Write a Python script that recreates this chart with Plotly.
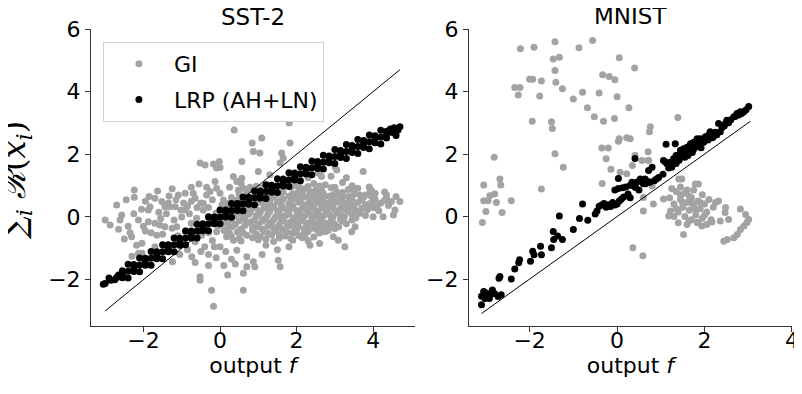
import plotly.graph_objects as go

# ---------------- data ----------------
panel_titles = ["SST-2", "MNIST"]
x_ticks_sst = [-2, 0, 2, 4]
x_ticks_mnist = [-2, 0, 2, 4]
y_ticks = [-2, 0, 2, 4, 6]

# identity lines y = x (endpoints of the output range)
diag_sst = [-3.0, 4.7]
diag_mnist = [-3.1, 3.05]

sst_gi = [
    (1.81, 3.0), (0.37, 2.78), (0.84, 2.36), (1.09, 2.52), (0.87, 2.09), (1.04, 2.04), (1.83, 2.36),
    (0.57, 1.77), (-0.17, 1.69), (-0.02, 1.77), (-0.09, 1.56), (0.0, 1.58), (1.61, 2.04), (1.65, 1.88),
    (1.57, 1.72), (-0.52, 1.72), (-0.39, 1.66), (0.35, 1.29), (0.44, 1.13), (0.57, 1.24), (0.61, 0.92),
    (0.48, 0.86), (0.70, 0.81), (0.78, 0.95), (-0.13, 1.13), (-0.09, 0.92), (-0.26, 0.81), (0.0, 0.76),
    (0.09, 0.54), (-0.35, 0.70), (-0.44, 0.44),
    (-2.24, 0.86), (-2.24, 0.63), (-1.63, 0.83), (-1.33, 0.67), (-2.70, 0.38), (-3.0, -0.1), (-2.87, -0.26),
    (-2.61, -0.1), (-2.57, 0.06), (-2.65, -0.39), (-2.35, -0.5), (-2.31, -0.63), (-2.13, -0.1), (-1.87, -0.15),
    (-2.18, -0.9), (-2.04, -0.84), (-1.83, 0.33), (-1.87, 0.22), (-1.52, 0.49), (-1.44, 0.33), (-1.31, 0.33),
    (-1.17, 0.33), (-1.09, 0.70), (-0.91, 0.76), (-0.70, 0.76), (-1.02, 0.22), (-0.91, 0.22), (-1.70, -0.2),
    (-1.57, -0.26), (-1.44, -0.31), (-1.25, -0.36), (-1.13, -0.31), (-1.65, -0.58), (-2.13, -1.16),
    (-2.04, -1.16), (-1.24, -1.43), (-0.74, -1.27), (-0.52, -1.91), (-0.52, -2.02), (-0.65, -0.79),
    (-0.48, -0.58), (-0.61, -0.04), (-0.44, 0.22),
    (-0.09, -0.47), (0.17, -0.63), (0.35, -0.74), (0.0, -0.95), (0.44, -1.06), (0.70, -1.27), (0.87, -1.43),
    (0.91, -1.59), (0.70, -1.59), (0.61, -1.8), (1.52, -1.38), (1.57, -1.59), (-0.22, -2.34), (0.61, -2.34),
    (-0.17, -2.85),
    (3.74, 1.45), (3.0, 1.61), (3.05, 1.5), (2.57, 1.4), (2.65, 1.29), (4.35, 0.6), (4.48, 0.49), (4.70, 0.49),
    (4.53, 0.06), (4.57, 0.22), (4.26, 0.01), (4.0, 0.01), (4.09, 0.28), (3.87, 0.33), (3.70, 0.54),
    (3.92, 0.81), (4.05, 0.76), (3.53, -0.31), (3.44, -0.47), (3.26, -0.95), (3.09, -0.74), (2.96, -0.63),
    (2.83, -0.42), (2.35, -0.9), (2.22, -0.63),
    (-2.25, 0.1), (-1.95, 0.5), (-1.7, 0.6), (-1.4, 0.1), (-1.2, -0.1), (-0.95, 0.45), (-0.8, 0.1),
    (-0.75, 0.5), (-0.6, 0.3), (-0.3, 0.3), (-0.2, 0.55), (-0.55, -0.3), (-0.4, -0.95), (-0.3, -1.2),
    (-0.85, -1.05), (-1.05, -1.2), (-0.2, -0.75), (0.15, -1.1), (0.3, -1.35), (-2.5, -0.7), (-1.95, -0.45),
    (-1.5, -0.55),
    (-2.45, 0.55), (-2.05, 0.25), (-1.85, 0.65), (-1.6, 0.15), (-1.35, 0.45), (-1.15, 0.55), (-1.0, 0.0),
    (-0.85, 0.35), (-0.65, 0.6), (-0.5, 0.45), (-0.35, 0.95), (-0.55, 1.05), (-0.75, 0.95), (-1.25, 0.9),
    (-1.55, -0.05), (-1.8, -0.5), (-2.4, -0.3), (-2.0, -0.3), (-1.1, -0.6), (-0.9, -0.45), (-0.75, -0.2),
    (-0.3, -0.5), (-0.15, -0.95), (-0.5, -1.1), (-0.65, -1.45), (-0.3, -1.55), (-0.1, -1.3), (0.1, -1.55),
    (0.4, -1.5), (0.2, -1.85), (-1.4, -0.9), (-1.7, -0.95), (-2.3, -1.25),
    (0.55, 1.08), (1.25, 1.02), (1.7, 1.1), (2.05, 1.0), (2.45, 1.07), (2.75, 1.03), (3.2, 1.1),
    (0.8, 0.88), (1.1, 0.93), (1.45, 0.87), (1.85, 0.95), (2.2, 0.9), (2.5, 0.86), (2.9, 0.93), (3.35, 0.88),
    (3.6, 0.92),
    (0.5, 0.73), (0.95, 0.78), (1.3, 0.72), (1.6, 0.77), (1.9, 0.74), (2.15, 0.79), (2.4, 0.72), (2.7, 0.76),
    (2.95, 0.71), (3.2, 0.78), (3.5, 0.74), (3.8, 0.7),
    (0.3, 0.62), (0.6, 0.57), (0.85, 0.61), (1.15, 0.58), (1.4, 0.63), (1.65, 0.57), (1.95, 0.6), (2.2, 0.64),
    (2.45, 0.58), (2.7, 0.61), (2.95, 0.56), (3.2, 0.62), (3.45, 0.59), (3.75, 0.63), (4.05, 0.57),
    (0.2, 0.43), (0.5, 0.47), (0.75, 0.42), (1.0, 0.46), (1.25, 0.44), (1.5, 0.48), (1.8, 0.43), (2.05, 0.47),
    (2.3, 0.42), (2.55, 0.46), (2.8, 0.44), (3.05, 0.48), (3.3, 0.43), (3.6, 0.46), (3.9, 0.42), (4.2, 0.45),
    (0.1, 0.28), (0.35, 0.32), (0.65, 0.27), (0.9, 0.31), (1.15, 0.29), (1.4, 0.33), (1.65, 0.28), (1.9, 0.31),
    (2.15, 0.27), (2.4, 0.32), (2.65, 0.29), (2.9, 0.33), (3.15, 0.28), (3.4, 0.31), (3.7, 0.27), (4.0, 0.3),
    (-0.1, 0.13), (0.2, 0.17), (0.5, 0.12), (0.8, 0.16), (1.05, 0.14), (1.3, 0.18), (1.55, 0.13), (1.8, 0.16),
    (2.05, 0.12), (2.3, 0.17), (2.55, 0.14), (2.8, 0.18), (3.05, 0.13), (3.35, 0.16), (3.65, 0.12),
    (-0.3, 0.02), (0.05, -0.02), (0.35, 0.03), (0.65, -0.01), (0.95, 0.02), (1.2, -0.03), (1.45, 0.01),
    (1.7, 0.03), (1.95, -0.02), (2.2, 0.02), (2.45, -0.01), (2.7, 0.03), (2.95, -0.02), (3.25, 0.01),
    (3.55, -0.03),
    (-0.2, -0.13), (0.2, -0.17), (0.5, -0.12), (0.8, -0.16), (1.1, -0.14), (1.35, -0.18), (1.6, -0.13),
    (1.85, -0.16), (2.1, -0.12), (2.35, -0.17), (2.6, -0.14), (2.9, -0.18), (3.2, -0.13),
    (-0.05, -0.28), (0.3, -0.32), (0.65, -0.27), (0.95, -0.31), (1.25, -0.29), (1.5, -0.33), (1.8, -0.28),
    (2.05, -0.31), (2.3, -0.27), (2.6, -0.32), (2.85, -0.29), (3.1, -0.31),
    (0.1, -0.43), (0.45, -0.47), (0.85, -0.42), (1.15, -0.46), (1.45, -0.44), (1.75, -0.48), (2.0, -0.43),
    (2.3, -0.46), (2.55, -0.42), (2.75, -0.47),
    (0.3, -0.62), (0.7, -0.58), (1.05, -0.63), (1.35, -0.57), (1.7, -0.61), (2.05, -0.59), (2.45, -0.64),
    (0.55, -0.77), (1.0, -0.73), (1.4, -0.78), (1.9, -0.74), (2.3, -0.76),
    (1.2, -0.9), (1.8, -0.95), (2.6, -0.85), (1.5, -1.05), (1.1, -1.2), (3.3, 1.25), (2.3, 1.25), (1.3, 1.35),
    (0.25, 0.95), (2.9, 1.3), (1.0, 1.45), (2.0, 1.2),
    (0.95, 0.98), (1.4, 0.96), (1.9, 1.0), (2.3, 0.97), (2.6, 0.99), (3.0, 0.95), (3.45, 1.0), (3.9, 0.96),
    (1.25, 0.83), (1.65, 0.8), (2.05, 0.84), (2.35, 0.81), (2.65, 0.85), (3.05, 0.8), (3.5, 0.83),
    (3.95, 0.85), (4.3, 0.8),
    (0.7, 0.68), (1.05, 0.65), (1.45, 0.7), (1.8, 0.66), (2.05, 0.69), (2.3, 0.65), (2.55, 0.7), (2.85, 0.66),
    (3.1, 0.69), (3.35, 0.65), (3.65, 0.7), (3.95, 0.66), (4.35, 0.7), (4.6, 0.65),
    (0.45, 0.53), (0.7, 0.5), (1.0, 0.54), (1.3, 0.51), (1.6, 0.55), (1.85, 0.5), (2.1, 0.54), (2.35, 0.51),
    (2.65, 0.55), (2.9, 0.5), (3.15, 0.53), (3.4, 0.51), (3.7, 0.55), (4.0, 0.5), (4.3, 0.53),
    (0.05, 0.38), (0.35, 0.36), (0.6, 0.39), (0.9, 0.35), (1.15, 0.38), (1.35, 0.36), (1.6, 0.39), (1.9, 0.35),
    (2.2, 0.38), (2.45, 0.36), (2.7, 0.39), (2.95, 0.35), (3.2, 0.38), (3.5, 0.36), (3.8, 0.39), (4.1, 0.35),
    (4.4, 0.37),
    (0.25, 0.23), (0.5, 0.2), (0.8, 0.24), (1.0, 0.21), (1.25, 0.25), (1.5, 0.2), (1.75, 0.23), (2.0, 0.21),
    (2.25, 0.24), (2.5, 0.2), (2.75, 0.23), (3.0, 0.21), (3.25, 0.25), (3.55, 0.2), (3.85, 0.23), (4.15, 0.2),
    (0.15, 0.08), (0.4, 0.05), (0.75, 0.09), (1.0, 0.06), (1.25, 0.08), (1.55, 0.05), (1.8, 0.09), (2.1, 0.06),
    (2.35, 0.08), (2.6, 0.05), (2.85, 0.09), (3.15, 0.06), (3.45, 0.08), (3.8, 0.05),
    (-0.1, -0.07), (0.3, -0.09), (0.6, -0.06), (0.9, -0.1), (1.15, -0.07), (1.4, -0.09), (1.65, -0.06),
    (1.9, -0.1), (2.15, -0.07), (2.4, -0.09), (2.65, -0.06), (2.9, -0.1), (3.15, -0.07), (3.45, -0.1),
    (0.05, -0.21), (0.4, -0.24), (0.7, -0.2), (1.0, -0.23), (1.3, -0.21), (1.55, -0.25), (1.75, -0.2),
    (2.0, -0.23), (2.25, -0.21), (2.5, -0.24), (2.75, -0.2), (3.0, -0.23), (3.3, -0.22),
    (0.2, -0.36), (0.55, -0.39), (0.85, -0.35), (1.1, -0.38), (1.4, -0.36), (1.65, -0.39), (1.95, -0.35),
    (2.2, -0.38), (2.45, -0.36), (2.7, -0.39), (3.0, -0.37),
    (0.25, -0.53), (0.6, -0.5), (0.95, -0.54), (1.25, -0.51), (1.55, -0.55), (1.9, -0.5), (2.2, -0.53),
    (2.6, -0.51),
    (0.5, -0.68), (0.85, -0.66), (1.2, -0.7), (1.55, -0.67), (1.85, -0.69), (2.15, -0.66),
]

# LRP band (SST-2): centre row, rows above, rows below, plus the sparse ends
sst_lrp_centre = [
    (-3.0, -2.12), (-2.85, -2.02), (-2.7, -1.93), (-2.55, -1.83), (-2.4, -1.73), (-2.25, -1.63),
    (-2.1, -1.53), (-1.95, -1.43), (-1.8, -1.32), (-1.65, -1.22), (-1.5, -1.11), (-1.35, -1.0),
    (-1.2, -0.89), (-1.05, -0.79), (-0.9, -0.67), (-0.75, -0.56), (-0.6, -0.45), (-0.45, -0.33),
    (-0.3, -0.22), (-0.15, -0.11), (0.0, 0.0), (0.15, 0.11), (0.3, 0.21), (0.45, 0.32), (0.6, 0.42),
    (0.75, 0.52), (0.9, 0.61), (1.05, 0.71), (1.2, 0.81), (1.35, 0.9), (1.5, 1.0), (1.65, 1.1),
    (1.8, 1.19), (1.95, 1.29), (2.1, 1.38), (2.25, 1.48), (2.4, 1.57), (2.55, 1.66), (2.7, 1.75),
    (2.85, 1.84), (3.0, 1.93), (3.15, 2.01), (3.3, 2.09), (3.45, 2.17), (3.6, 2.25), (3.75, 2.33),
    (3.9, 2.4), (4.05, 2.48), (4.2, 2.55), (4.35, 2.63), (4.5, 2.7), (4.65, 2.78),
]
sst_lrp_upper = [
    (-2.4, -1.51), (-2.1, -1.31), (-1.8, -1.1), (-1.5, -0.89), (-1.2, -0.67), (-0.9, -0.45), (-0.6, -0.23),
    (-0.3, 0.0), (0.0, 0.22), (0.3, 0.43), (0.6, 0.64), (0.9, 0.83), (1.2, 1.03), (1.5, 1.22), (1.8, 1.41),
    (2.1, 1.6), (2.4, 1.79), (2.7, 1.97), (3.0, 2.15), (3.3, 2.31), (3.6, 2.47), (3.9, 2.62), (4.2, 2.77),
    (-2.55, -1.72), (-2.25, -1.52), (-1.95, -1.32), (-1.65, -1.11), (-1.35, -0.89), (-1.05, -0.68),
    (-0.75, -0.45), (-0.45, -0.22), (-0.15, 0.0), (0.15, 0.22), (0.45, 0.43), (0.75, 0.63), (1.05, 0.82),
    (1.35, 1.01), (1.65, 1.21), (1.95, 1.4), (2.25, 1.59), (2.55, 1.77), (2.85, 1.95), (3.15, 2.12),
    (3.45, 2.28), (3.75, 2.44), (4.05, 2.59), (4.35, 2.74),
]
sst_lrp_lower = [
    (-2.4, -1.95), (-2.1, -1.75), (-1.8, -1.54), (-1.5, -1.33), (-1.2, -1.11), (-0.9, -0.89), (-0.6, -0.67),
    (-0.3, -0.44), (0.0, -0.22), (0.3, -0.01), (0.6, 0.2), (0.9, 0.39), (1.2, 0.59), (1.5, 0.78), (1.8, 0.97),
    (2.1, 1.16), (2.4, 1.35), (2.7, 1.53), (3.0, 1.71), (3.3, 1.87), (3.6, 2.03), (3.9, 2.18), (4.2, 2.33),
    (-2.55, -1.94), (-2.25, -1.74), (-1.95, -1.54), (-1.65, -1.33), (-1.35, -1.11), (-1.05, -0.9),
    (-0.75, -0.67), (-0.45, -0.44), (-0.15, -0.22), (0.15, 0.0), (0.45, 0.21), (0.75, 0.41), (1.05, 0.6),
    (1.35, 0.79), (1.65, 0.99), (1.95, 1.18), (2.25, 1.37), (2.55, 1.55), (2.85, 1.73), (3.15, 1.9),
    (3.45, 2.06), (3.75, 2.22), (4.05, 2.37), (4.35, 2.52),
]
sst_lrp_ends = [
    (-3.05, -2.15), (-2.9, -1.95), (-2.75, -2.0), (-2.65, -1.85), (4.45, 2.81), (4.55, 2.85), (4.6, 2.6),
    (4.7, 2.88),
]

mnist_gi = [
    (-1.42, 5.59), (-0.56, 5.63), (-2.21, 5.37), (-1.90, 5.42), (-0.87, 5.40), (0.05, 5.08), (-1.46, 5.04),
    (-1.32, 5.10), (0.40, 4.75), (-1.42, 4.67), (-0.33, 4.54), (-0.18, 4.48), (-0.05, 4.38), (-2.0, 4.39),
    (-1.93, 4.39), (-1.73, 4.34), (-1.40, 4.30), (-2.34, 4.13), (-2.22, 4.13), (-2.26, 3.89), (-1.77, 3.86),
    (-1.25, 4.09), (-0.79, 3.98), (-0.41, 3.95), (-1.0, 3.76), (0.0, 3.83), (-0.68, 3.48), (0.27, 3.48),
    (-0.52, 3.19), (-0.31, 3.05), (-0.06, 3.14), (-1.94, 3.05), (-1.50, 3.03), (-1.48, 2.82), (1.39, 3.17),
    (0.76, 2.87), (0.74, 2.71), (0.05, 2.49), (0.03, 2.41), (0.22, 2.52), (0.30, 2.49), (-0.35, 2.19),
    (-0.20, 2.19), (-1.42, 2.01), (-2.81, 1.90), (-1.23, 1.58), (-0.25, 1.85), (0.41, 1.96), (0.72, 1.80),
    (-0.14, 1.51), (0.07, 1.42), (0.22, 1.37), (0.35, 1.63), (-2.68, 1.20), (-2.66, 1.01), (-3.05, 1.01),
    (-1.73, 0.88), (-0.34, 1.06), (-3.05, 0.51), (-2.95, 0.51), (-2.91, 0.67), (-2.80, 0.72), (-2.76, 0.45),
    (-2.42, 0.51), (-3.0, 0.16), (-2.63, 0.13), (-3.08, -0.19), (0.36, -1.0), (0.59, -1.25),
    (0.71, 2.07), (0.71, 1.79), (0.57, 1.79), (1.79, 1.04), (1.86, 1.04), (1.41, 1.20), (1.48, 1.20),
    (0.68, 1.10), (0.80, 0.99), (0.60, 0.61), (0.83, 0.40), (0.60, 0.18), (1.06, 0.56),
    (2.32, 0.50), (2.25, 0.45), (2.48, 0.29), (2.47, 0.13), (2.55, -0.09), (2.36, -0.14), (2.17, -0.17),
    (2.82, 0.24), (2.94, 0.07), (3.01, -0.09), (2.97, -0.19), (2.90, -0.30), (2.82, -0.41), (2.75, -0.57),
    (2.67, -0.68), (2.52, -0.73), (2.44, -0.79), (1.52, -0.57), (1.22, 0.18), (1.18, 0.02), (1.64, -0.14),
    (1.83, -0.19), (1.94, -0.30),
    (1.2, 0.6), (1.3, 0.4), (1.35, 0.8), (1.4, 0.15), (1.45, 0.55), (1.5, 0.3), (1.55, 0.0), (1.55, 0.75),
    (1.6, 0.45), (1.65, 0.2), (1.7, -0.1), (1.7, 0.6), (1.75, 0.35), (1.8, 0.05), (1.85, 0.5), (1.9, 0.25),
    (1.95, -0.05), (1.95, 0.7), (2.0, 0.4), (2.05, 0.15), (2.1, 0.55), (2.15, -0.1), (2.2, 0.3), (1.25, 0.9),
    (1.45, 0.95), (1.6, 0.85), (1.75, 0.85), (1.3, 0.0), (1.4, -0.2), (1.6, -0.25), (1.85, -0.2),
    (2.05, -0.25), (1.5, 0.45), (1.65, 0.65), (1.8, 0.2), (1.9, 0.45), (2.0, 0.05), (1.35, 0.25),
    (1.45, 0.7), (1.7, 0.45),
]

mnist_lrp = [
    (-3.1, -2.82), (-3.1, -2.55), (-3.02, -2.62), (-2.98, -2.45), (-2.9, -2.5), (-2.85, -2.35),
    (-2.8, -2.47), (-2.72, -2.56), (-2.65, -2.5), (-3.05, -2.4), (-2.92, -2.62),
    (-2.7, -1.97), (-2.68, -1.92), (-2.42, -2.0), (-2.34, -1.68), (-2.25, -1.48), (-2.23, -1.38),
    (-1.98, -1.43), (-1.93, -1.11), (-1.9, -1.22), (-1.75, -0.95), (-1.73, -1.22), (-1.5, -1.0),
    (-1.45, -0.73), (-1.46, -0.48), (-1.36, -0.62), (-1.25, -0.73), (-1.32, 0.02), (-1.0, -0.41),
    (-0.86, -0.06), (-0.79, 0.4), (-0.67, -0.12), (-0.5, 0.08), (-0.46, 0.18), (-0.41, 0.33),
    (-0.35, 0.37), (-0.3, 0.42), (-0.2, 0.38), (-0.15, 0.32), (-0.1, 0.45), (-0.05, 0.37), (0.05, 0.5),
    (0.1, 0.56), (0.15, 0.63), (0.03, 1.22), (-0.05, 0.85), (0.03, 0.9), (0.13, 0.92), (0.3, 1.0),
    (0.34, 1.1), (0.42, 0.93), (0.5, 0.85), (0.41, 1.86), (0.57, 1.15), (0.65, 1.05), (0.75, 1.1),
    (0.85, 1.15), (0.95, 1.25), (1.05, 1.35), (1.1, 1.75), (1.12, 2.31),
    (3.01, 3.52), (2.82, 3.35), (2.74, 3.30), (2.67, 3.19), (2.51, 3.08), (2.48, 2.98), (2.32, 2.98),
    (2.36, 2.71), (2.13, 2.71), (2.09, 2.60), (2.02, 2.55), (1.90, 2.49), (1.83, 2.49), (1.75, 2.38),
    (1.68, 2.33), (1.6, 2.22), (1.52, 2.17), (1.45, 2.12), (1.33, 2.33), (1.37, 1.95), (1.29, 1.85),
    (1.22, 1.74), (1.14, 1.69), (1.06, 1.79), (0.80, 1.58), (0.72, 1.47), (0.64, 1.2), (0.53, 1.2),
    (0.45, 1.1), (0.37, 0.99),
    (1.5, 2.0), (1.6, 2.1), (1.7, 2.2), (1.8, 2.3), (1.9, 2.35), (2.0, 2.45), (1.55, 1.9), (1.65, 2.05),
    (1.75, 2.15), (1.85, 2.25), (1.95, 2.4), (2.05, 2.5), (2.15, 2.6), (2.25, 2.7), (1.4, 1.85),
    (1.3, 1.75), (1.35, 1.95), (1.45, 2.0), (2.2, 2.55), (2.4, 2.85), (2.6, 3.1), (2.7, 3.2),
    (2.78, 3.25), (2.9, 3.35), (2.95, 3.42), (2.85, 3.3),
    (1.25, 1.65), (1.35, 1.7), (1.55, 2.05), (1.65, 2.15), (1.78, 2.22), (1.88, 2.3), (1.98, 2.38),
    (2.08, 2.45), (2.18, 2.52), (2.28, 2.62), (1.42, 1.8), (1.62, 1.95), (1.72, 2.05), (1.92, 2.2),
    (2.12, 2.65), (2.45, 2.9), (2.55, 3.0), (0.9, 1.2), (0.7, 1.12), (0.6, 1.05), (0.2, 0.95),
    (0.25, 0.72), (0.3, 0.6), (-0.25, 0.3), (0.0, 0.4), (1.18, 1.55), (1.25, 1.58),
]

GI_COLOR = "#a3a3a3"
LRP_COLOR = "#000000"
FONT = "DejaVu Sans"
MSIZE = 7

sst_lrp = sst_lrp_centre + sst_lrp_upper + sst_lrp_lower + sst_lrp_ends


def xs(points):
    return [p[0] for p in points]


def ys(points):
    return [p[1] for p in points]


fig = go.Figure()

# SST-2 panel
fig.add_trace(go.Scatter(x=xs(sst_gi), y=ys(sst_gi), mode="markers", name="GI", legendgroup="gi",
                         marker=dict(color=GI_COLOR, size=MSIZE, line=dict(width=0)),
                         xaxis="x", yaxis="y"))
fig.add_trace(go.Scatter(x=diag_sst, y=diag_sst, mode="lines", showlegend=False,
                         line=dict(color="black", width=1), xaxis="x", yaxis="y"))
fig.add_trace(go.Scatter(x=xs(sst_lrp), y=ys(sst_lrp), mode="markers", name="LRP (AH+LN)",
                         legendgroup="lrp",
                         marker=dict(color=LRP_COLOR, size=MSIZE, line=dict(width=0)),
                         xaxis="x", yaxis="y"))

# MNIST panel
fig.add_trace(go.Scatter(x=xs(mnist_gi), y=ys(mnist_gi), mode="markers", showlegend=False,
                         marker=dict(color=GI_COLOR, size=MSIZE, line=dict(width=0)),
                         xaxis="x2", yaxis="y2"))
fig.add_trace(go.Scatter(x=diag_mnist, y=diag_mnist, mode="lines", showlegend=False,
                         line=dict(color="black", width=1), xaxis="x2", yaxis="y2"))
fig.add_trace(go.Scatter(x=xs(mnist_lrp), y=ys(mnist_lrp), mode="markers", showlegend=False,
                         marker=dict(color=LRP_COLOR, size=MSIZE, line=dict(width=0)),
                         xaxis="x2", yaxis="y2"))

axis_common = dict(showline=True, linecolor="#333333", linewidth=1, ticks="outside", ticklen=5,
                   tickwidth=1, tickcolor="#333333", showgrid=False, zeroline=False,
                   automargin=False, tickfont=dict(family=FONT, size=22, color="black"))

# The page has an 8 px body margin, so margins are reduced by 8 px to keep the plot in place
fig.update_layout(
    width=802, height=394,
    margin=dict(l=83, r=18, t=21, b=76, autoexpand=False),
    paper_bgcolor="white", plot_bgcolor="white",
    font=dict(family=FONT, color="black"),
    xaxis=dict(domain=[0, 0.462], range=[-3.37, 5.09], tickvals=x_ticks_sst, anchor="y",
               ticklabelstandoff=-10,
               title=dict(text="output <i>f</i>", font=dict(family=FONT, size=22), standoff=4),
               **axis_common),
    yaxis=dict(domain=[0, 1], range=[-3.48, 6.0], tickvals=y_ticks, anchor="x", **axis_common),
    xaxis2=dict(domain=[0.539, 1], range=[-3.39, 4.0], tickvals=x_ticks_mnist, anchor="y2",
                ticklabelstandoff=-10,
                title=dict(text="output <i>f</i>", font=dict(family=FONT, size=22), standoff=4),
                **axis_common),
    yaxis2=dict(domain=[0, 1], range=[-3.5, 6.0], tickvals=y_ticks, anchor="x2", **axis_common),
    legend=dict(x=0.017, y=0.956, xanchor="left", yanchor="top", bgcolor="white",
                bordercolor="#d0d0d0", borderwidth=1, font=dict(family=FONT, size=22),
                itemwidth=60, tracegroupgap=4),
    showlegend=True,
    annotations=[
        dict(text=panel_titles[0], x=0.231, y=1.042, xref="paper", yref="paper", xanchor="center",
             yanchor="middle", showarrow=False, font=dict(family=FONT, size=23)),
        dict(text=panel_titles[1], x=0.769, y=1.045, xref="paper", yref="paper", xanchor="center",
             yanchor="middle", showarrow=False, font=dict(family=FONT, size=23)),
        dict(text="∑<sub><i>i</i></sub> <i>ℛ</i>(<i>x<sub>i</sub></i>)", x=-0.106, y=0.49,
             xref="paper", yref="paper", xanchor="center", yanchor="middle", textangle=-90,
             showarrow=False, font=dict(family="DejaVu Serif", size=32)),
    ],
)

fig.write_html("out.html")
